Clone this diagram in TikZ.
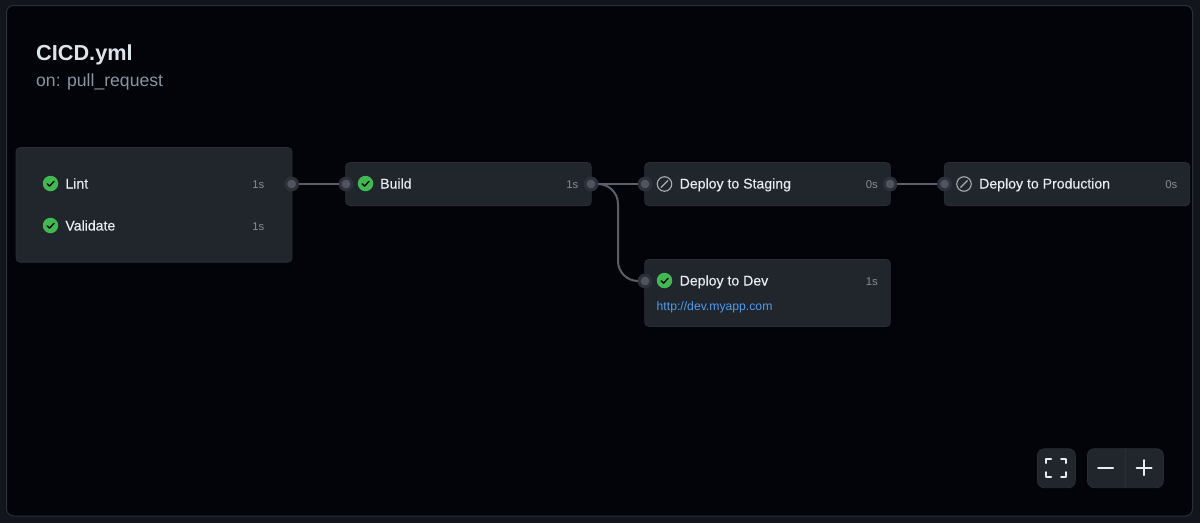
\documentclass[tikz,border=0pt]{standalone}
\usepackage{fontspec}
\setmainfont{Liberation Sans}
\newfontfamily\jobfont{Liberation Sans}[FakeBold=0.25]
\definecolor{outerbg}{HTML}{12161C}
\definecolor{innerbg}{HTML}{020409}
\definecolor{frameline}{HTML}{2B3036}
\definecolor{cardbg}{HTML}{21252C}
\definecolor{cardline}{HTML}{292E35}
\definecolor{maintext}{HTML}{E6EDF3}
\definecolor{titletext}{HTML}{DDE4EA}
\definecolor{subtext}{HTML}{848D97}
\definecolor{triggertext}{HTML}{8B949E}
\definecolor{linkblue}{HTML}{4C9BF0}
\definecolor{okgreen}{HTML}{3FB950}
\definecolor{portout}{HTML}{2C3038}
\definecolor{portin}{HTML}{50545E}
\definecolor{wire}{HTML}{5A5E66}
\definecolor{skipgrey}{HTML}{A8AEB5}
\tikzset{
  x=1pt,y=-1pt,
  cardbox/.style={draw=cardline,line width=0.8pt,fill=cardbg,rounded corners=4pt,inner sep=0pt,anchor=north west},
  port/.style={circle,draw=portout,line width=3pt,fill=portin,minimum size=11.8pt,inner sep=0pt},
  okdot/.style={circle,fill=okgreen,minimum size=15.5pt,inner sep=0pt},
  skipdot/.style={circle,draw=skipgrey,line width=1.1pt,minimum size=14.5pt,inner sep=0pt},
  tick/.style={draw=innerbg,line width=1.4pt,line cap=round,line join=round},
  jobname/.style={text=maintext,font=\jobfont\fontsize{14.1}{16}\selectfont,anchor=base west,inner sep=0pt},
  jobtime/.style={text=subtext,font=\fontsize{11.3}{14}\selectfont,anchor=base east,inner sep=0pt},
  wireline/.style={draw=wire,line width=2pt},
  ctrlbox/.style={draw=cardline,line width=0.8pt,fill=cardbg,rounded corners=7pt,inner sep=0pt,anchor=north west},
  ctrlicon/.style={draw=maintext,line width=2pt,line cap=round,line join=round},
}
\newcommand{\okmark}[3]{\node[okdot] (#1) at (#2,#3) {};
  \draw[tick] ([shift={(-3.4,0.3)}]#1.center) -- ([shift={(-1,2.6)}]#1.center) -- ([shift={(3.6,-2.2)}]#1.center);}
\newcommand{\skipmark}[3]{\node[skipdot] (#1) at (#2,#3) {};
  \draw[draw=skipgrey,line width=1.1pt] ([shift={(-3.6,3.6)}]#1.center) -- ([shift={(3.6,-3.6)}]#1.center);}
\begin{document}
\begin{tikzpicture}
\useasboundingbox (0,0) rectangle (1200,523);
\fill[outerbg] (0,0) rectangle (1200,523);
\draw[frameline,line width=1pt,fill=innerbg,rounded corners=7pt] (6.5,5.5) rectangle (1192.5,516);

\node[text=titletext,font=\bfseries\fontsize{21.7}{24}\selectfont,anchor=base west,inner sep=0pt] (title) at (36,60) {CICD.yml};
\node[text=triggertext,font=\fontsize{17.6}{20}\selectfont,anchor=base west,inner sep=0pt] (trigger) at (36,86.5) {on: pull\_request};

% cards
\node[cardbox,minimum width=276pt,minimum height=114.5pt] (lintcard) at (15.6,147.2) {};
\node[cardbox,minimum width=245.6pt,minimum height=43pt] (buildcard) at (345.3,162.2) {};
\node[cardbox,minimum width=245.6pt,minimum height=43pt] (stagingcard) at (644.3,162.2) {};
\node[cardbox,minimum width=245.6pt,minimum height=43pt] (prodcard) at (943.8,162.2) {};
\node[cardbox,minimum width=245.6pt,minimum height=67pt] (devcard) at (644.3,259) {};

% ports
\node[port] (plint) at (291.6,184) {};
\node[port] (pbuildin) at (346,184) {};
\node[port] (pbuildout) at (591,184) {};
\node[port] (pstagein) at (645,184) {};
\node[port] (pstageout) at (890,184) {};
\node[port] (pprodin) at (944.5,184) {};
\node[port] (pdevin) at (645,281) {};
\coordinate (bend) at (618,230);

% connectors
\draw[wireline] (plint) -- (pbuildin);
\draw[wireline] (pbuildout) -- (pstagein);
\draw[wireline] (pstageout) -- (pprodin);
\draw[wireline,rounded corners=20pt] (pbuildout.east) -- (pbuildout.east -| bend) -- (bend |- pdevin.west) -- (pdevin.west);

% job rows
\okmark{oklint}{50.5}{183.5}
\node[jobname] (tlint) at (65.2,188.5) {Lint};
\node[jobtime] (slint) at (264.5,188) {1s};
\okmark{okval}{50.5}{225.5}
\node[jobname] (tval) at (65.2,230.5) {Validate};
\node[jobtime] (sval) at (264.5,230) {1s};

\okmark{okbuild}{365.5}{183.5}
\node[jobname] (tbuild) at (380,188.5) {Build};
\node[jobtime] (sbuild) at (578.5,188) {1s};

\skipmark{skstage}{664.5}{184}
\node[jobname] (tstage) at (679.5,188.5) {Deploy to Staging};
\node[jobtime] (sstage) at (878,188) {0s};

\skipmark{skprod}{964}{184}
\node[jobname] (tprod) at (979,188.5) {Deploy to Production};
\node[jobtime] (sprod) at (1177.5,188) {0s};

\okmark{okdev}{664.5}{280.5}
\node[jobname] (tdev) at (679.5,285.5) {Deploy to Dev};
\node[jobtime] (sdev) at (878,285) {1s};
\node[text=linkblue,font=\fontsize{12.2}{14}\selectfont,anchor=base west,inner sep=0pt] (link) at (656.5,310.5) {http://dev.myapp.com};

% view controls
\node[ctrlbox,minimum width=38pt,minimum height=39pt] (fitbtn) at (1037,448.3) {};
\node[ctrlbox,minimum width=76pt,minimum height=39pt] (zoombtn) at (1087,448.3) {};
\draw[cardline,line width=1.2pt] (zoombtn.north) -- (zoombtn.south);
\draw[ctrlicon] (1046,463) -- (1046,458.5) -- (1051,458.5);
\draw[ctrlicon] (1061,458.5) -- (1065.5,458.5) -- (1065.5,463);
\draw[ctrlicon] (1046,472) -- (1046,477) -- (1051,477);
\draw[ctrlicon] (1061,477) -- (1065.5,477) -- (1065.5,472);
\draw[ctrlicon] (1098,467.5) -- (1113,467.5);
\draw[ctrlicon] (1136.5,467.5) -- (1151.5,467.5);
\draw[ctrlicon] (1144,460) -- (1144,475);
\end{tikzpicture}
\end{document}
